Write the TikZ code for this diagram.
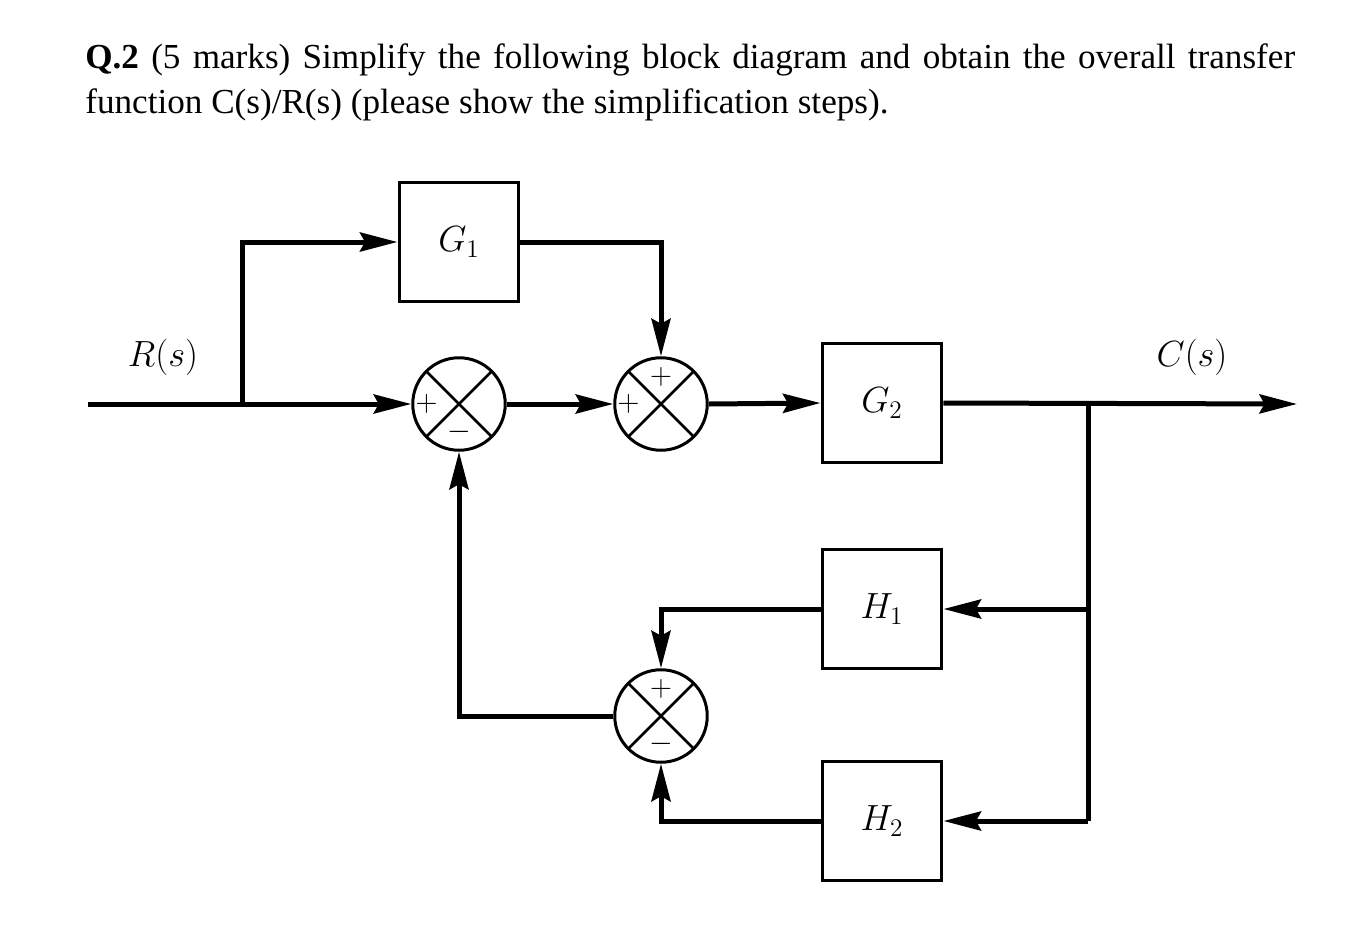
\documentclass[tikz,border=0pt]{standalone}
\usepackage{fontspec}
\setmainfont{Liberation Serif}
\usetikzlibrary{arrows.meta}

\tikzstyle{line} = [line width=0.1cm]
\tikzstyle{arw} = [line width=0.1cm, -{Stealth[length=0.75cm,width=0.38cm,inset=0.1cm]}]
\tikzstyle{blk} = [draw, line width=0.06cm, minimum size=2.4cm, inner sep=0pt, font=\fontsize{21}{24}\selectfont]
\tikzstyle{sum} = [draw, circle, line width=0.06cm, minimum size=1.85cm, inner sep=0pt,
  path picture={\draw[line width=0.05cm] (path picture bounding box.north west) -- (path picture bounding box.south east);
                \draw[line width=0.05cm] (path picture bounding box.north east) -- (path picture bounding box.south west);}]
\tikzstyle{sgn} = [inner sep=0pt, font=\fontsize{17}{18}\bfseries\selectfont]
\tikzstyle{lbl} = [inner sep=0pt, font=\fontsize{21}{24}\selectfont]

\begin{document}
\begin{tikzpicture}[x=0.02cm,y=-0.02cm]
\useasboundingbox (0,0) rectangle (1347,924);

\node[anchor=north west, inner sep=0pt, text width=24.2cm, align=justify,
  font=\fontsize{20}{25.6}\selectfont] (title) at (85,43)
  {\textbf{Q.2} (5 marks) Simplify the following block diagram and obtain the overall transfer\linebreak
   function C(s)/R(s) (please show the simplification steps).};

% blocks
\node[blk] (g1) at (459,242) {$G_1$};
\node[blk] (g2) at (882,403) {$G_2$};
\node[blk] (h1) at (882,609) {$H_1$};
\node[blk] (h2) at (882,821) {$H_2$};

% summing points
\node[sum] (s1) at (459,404) {};
\node[sum] (s2) at (661,404) {};
\node[sum] (s3) at (661,716) {};
\node[sgn] at ([xshift=-0.65cm]s1.center) {$+$};
\node[sgn] at ([yshift=-0.55cm]s1.center) {$-$};
\node[sgn] at ([xshift=-0.65cm]s2.center) {$+$};
\node[sgn] at ([yshift=0.55cm]s2.center) {$+$};
\node[sgn] at ([yshift=0.55cm]s3.center) {$+$};
\node[sgn] at ([yshift=-0.55cm]s3.center) {$-$};

% labels
\node[lbl] (rs) at (163,357) {$R(s)$};
\node[lbl] (cs) at (1192,357) {$C(s)$};

% points
\coordinate (in) at (88,404);
\coordinate (br) at (242,404);
\coordinate (out) at (1297,404);
\coordinate (bo) at (1088,404);

% forward path
\draw[line] (in) -- (br);
\draw[arw] (br) -- (s1.west);
\draw[arw] (br) |- (g1.west);
\draw[arw] (g1.east) -| (s2.north);
\draw[arw] (s1.east) -- (s2.west);
\draw[arw] (s2.east) -- (g2.west);
\draw[arw] (g2.east) -- (out);

% feedback
\draw[line] (bo) |- (h2.east -| bo);
\draw[arw] (h1.east -| bo) -- (h1.east);
\draw[arw] (h2.east -| bo) -- (h2.east);
\draw[arw] (h1.west) -| (s3.north);
\draw[arw] (h2.west) -| (s3.south);
\draw[arw] (s3.west) -| (s1.south);

\end{tikzpicture}
\end{document}
